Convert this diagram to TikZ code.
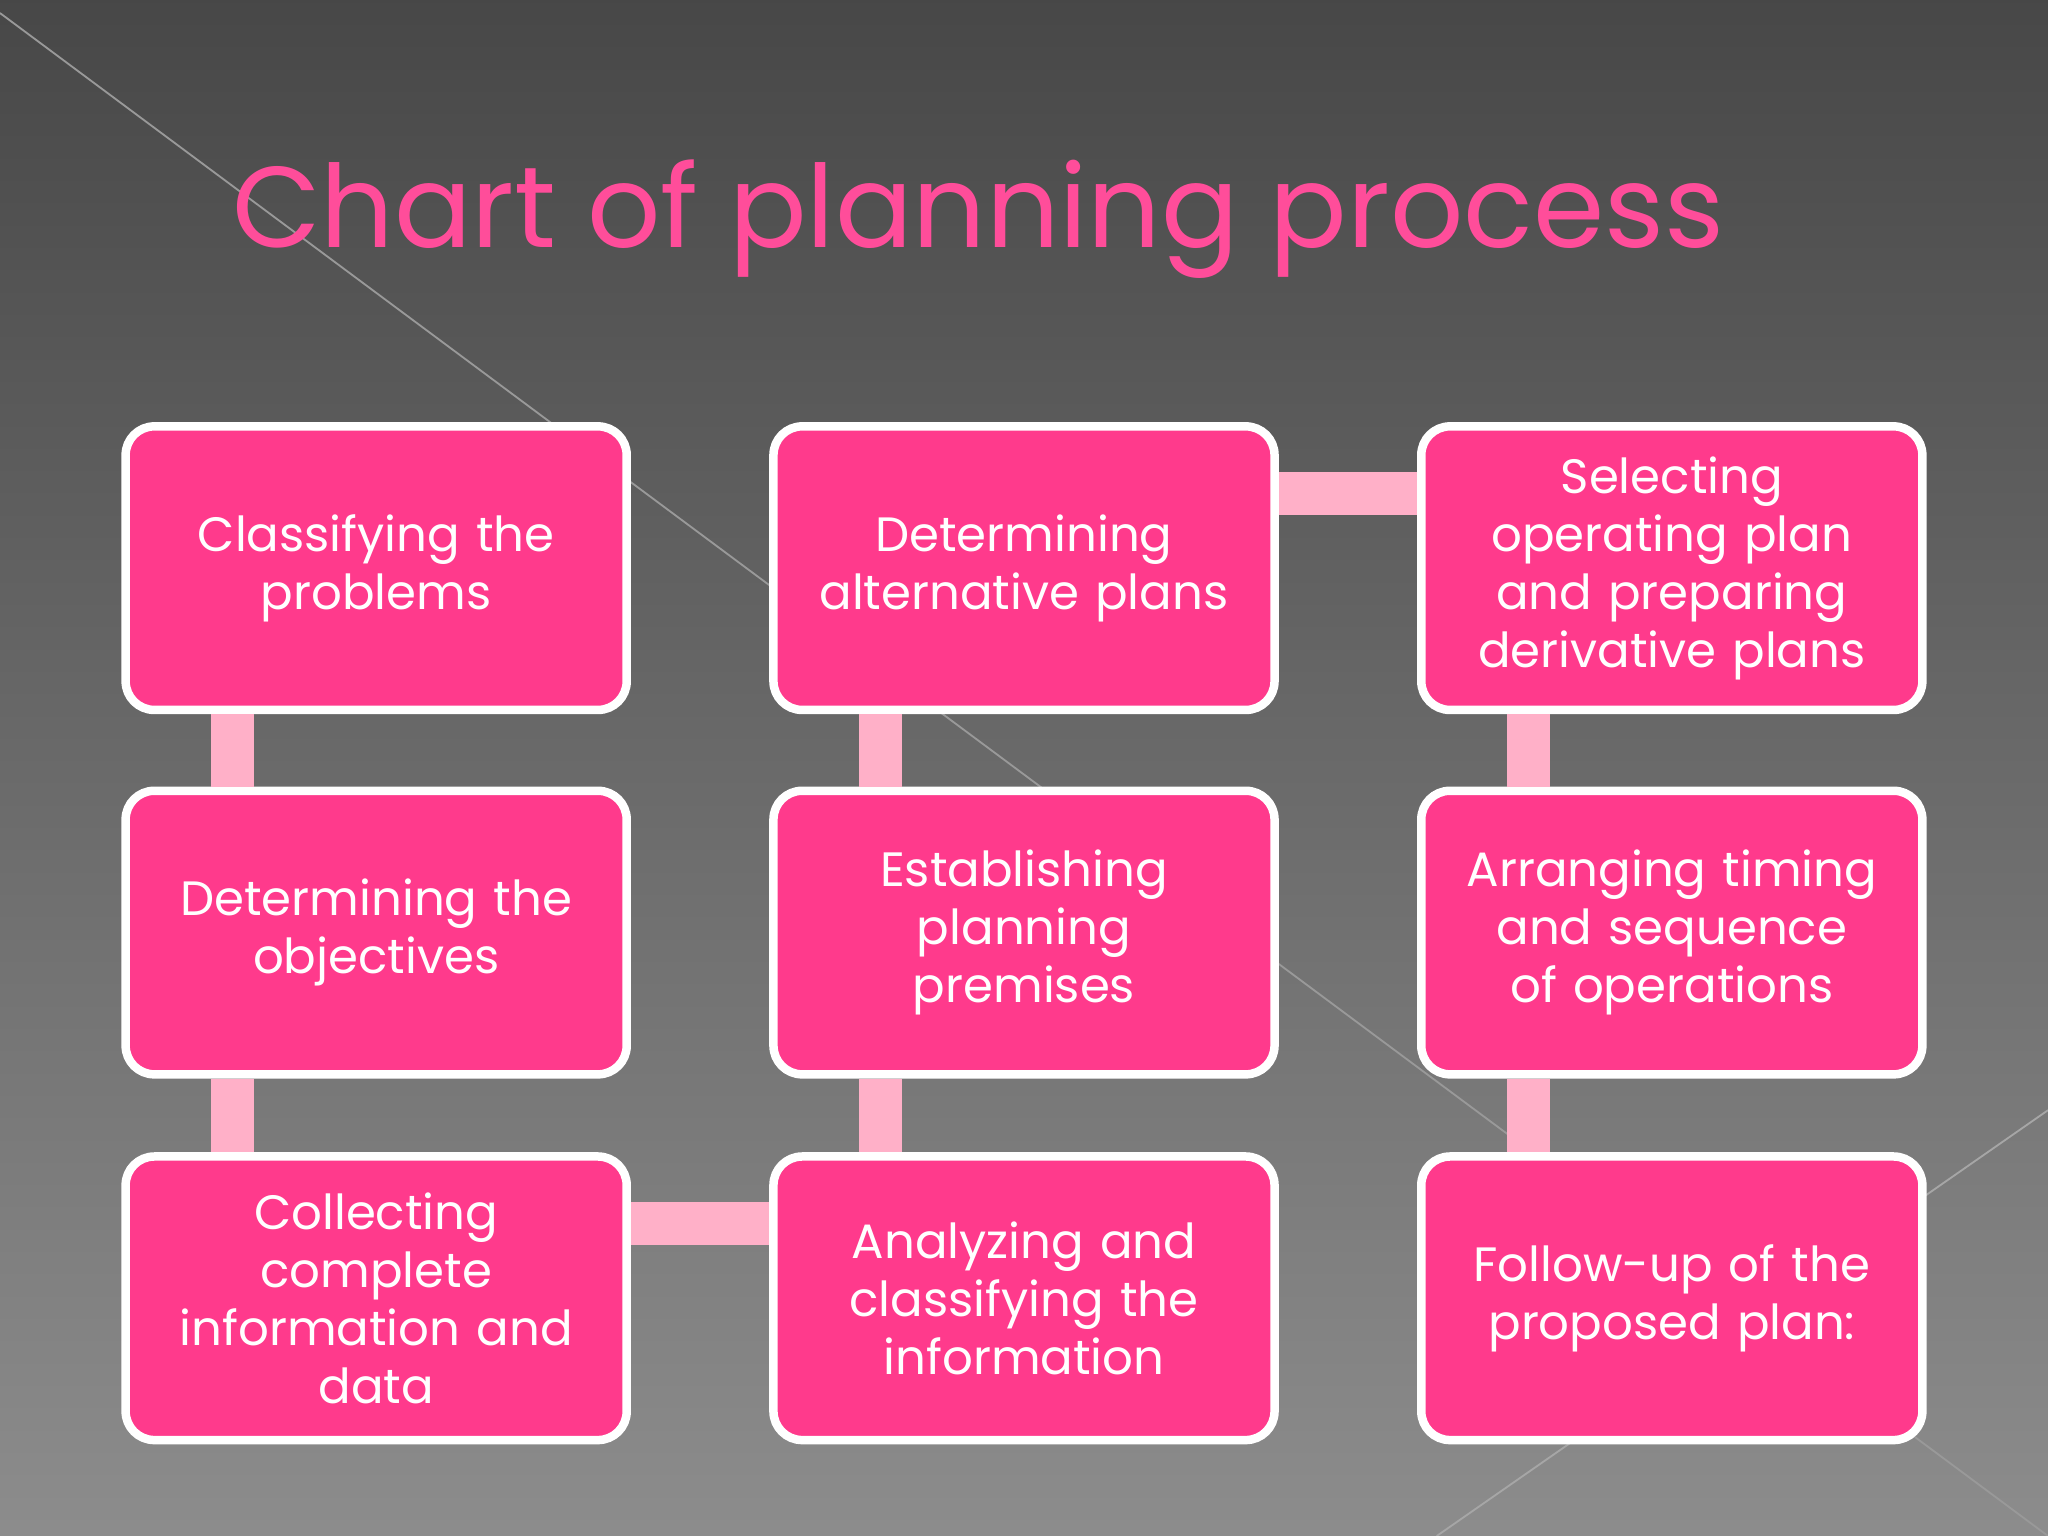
\documentclass[tikz,border=0pt]{standalone}
\usepackage{fontspec}
\setmainfont{Poppins}
\definecolor{boxpink}{HTML}{FF3A8C}
\definecolor{linkpink}{HTML}{FFB0C8}
\definecolor{titlepink}{HTML}{FF4D9A}
\begin{document}
\begin{tikzpicture}[x=0.01cm,y=-0.01cm,
  stepbox/.style={draw=white,line width=0.65mm,fill=boxpink,rounded corners=2.2mm,minimum width=3.66cm,minimum height=2.17cm,text width=3.6cm,align=center,text=white,font=\fontsize{10.5}{12.6}\selectfont,anchor=center},
  link/.style={linkpink,line width=0.33cm}]
\shade[top color=black!72,bottom color=black!45] (0,0) rectangle (1568,1176);
\useasboundingbox (0,0) rectangle (1568,1176);
\draw[black!40,line width=0.4pt] (0,10) -- (1568,1176);
\draw[black!35,line width=0.4pt] (1100,1176) -- (1568,850);
\node[text=titlepink,font=\fontsize{25}{29}\selectfont] (title) at (749,168) {Chart of planning process};
\node[stepbox] (a) at (288,435) {Classifying the\\problems};
\node[stepbox] (b) at (288,714) {Determining the\\objectives};
\node[stepbox] (c) at (288,994) {Collecting\\complete\\information and\\data};
\node[stepbox] (d) at (784,994) {Analyzing and\\classifying the\\information};
\node[stepbox] (e) at (784,714) {Establishing\\planning\\premises};
\node[stepbox] (f) at (784,435) {Determining\\alternative plans};
\node[stepbox] (g) at (1280,435) {Selecting\\operating plan\\and preparing\\derivative plans};
\node[stepbox] (h) at (1280,714) {Arranging timing\\and sequence\\of operations};
\node[stepbox] (i) at (1280,994) {Follow-up of the\\proposed plan:};
\draw[link] ([xshift=-1.1cm]a.south) -- ([xshift=-1.1cm]b.north);
\draw[link] ([xshift=-1.1cm]b.south) -- ([xshift=-1.1cm]c.north);
\draw[link] ([yshift=0.57cm]c.east) -- ([yshift=0.57cm]d.west);
\draw[link] ([xshift=-1.1cm]d.north) -- ([xshift=-1.1cm]e.south);
\draw[link] ([xshift=-1.1cm]e.north) -- ([xshift=-1.1cm]f.south);
\draw[link] ([yshift=0.57cm]f.east) -- ([yshift=0.57cm]g.west);
\draw[link] ([xshift=-1.1cm]g.south) -- ([xshift=-1.1cm]h.north);
\draw[link] ([xshift=-1.1cm]h.south) -- ([xshift=-1.1cm]i.north);
\end{tikzpicture}
\end{document}
